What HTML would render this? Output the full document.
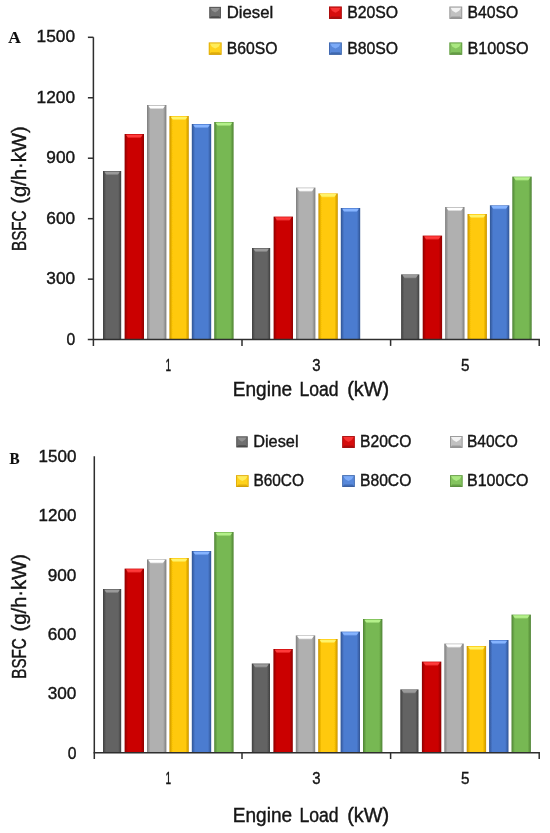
<!DOCTYPE html>
<html lang="en"><head><meta charset="utf-8"><title>BSFC vs Engine Load</title>
<style>
html,body{margin:0;padding:0;background:#fff;}
body{width:550px;height:833px;overflow:hidden;font-family:"Liberation Sans",sans-serif;}
svg{display:block;}
</style></head><body>
<svg width="550" height="833" viewBox="0 0 550 833">
<defs>
<filter id="soft" x="0" y="0" width="550" height="833" filterUnits="userSpaceOnUse"><feGaussianBlur stdDeviation="0.55"/></filter>
<linearGradient id="hd" x1="0" x2="1" y1="0" y2="0"><stop offset="0" stop-color="#3f3f3f"/><stop offset="0.17" stop-color="#636363"/><stop offset="0.83" stop-color="#636363"/><stop offset="1" stop-color="#3f3f3f"/></linearGradient>
<linearGradient id="td" x1="0" x2="0" y1="0" y2="1"><stop offset="0" stop-color="#9a9a9a"/><stop offset="0.55" stop-color="#9a9a9a"/><stop offset="1" stop-color="#636363"/></linearGradient>
<linearGradient id="hr" x1="0" x2="1" y1="0" y2="0"><stop offset="0" stop-color="#8c0303"/><stop offset="0.17" stop-color="#cb0606"/><stop offset="0.83" stop-color="#cb0606"/><stop offset="1" stop-color="#8c0303"/></linearGradient>
<linearGradient id="tr" x1="0" x2="0" y1="0" y2="1"><stop offset="0" stop-color="#ff3a3a"/><stop offset="0.55" stop-color="#ff3a3a"/><stop offset="1" stop-color="#cb0606"/></linearGradient>
<linearGradient id="hg" x1="0" x2="1" y1="0" y2="0"><stop offset="0" stop-color="#7c7c7c"/><stop offset="0.17" stop-color="#b0b0b0"/><stop offset="0.83" stop-color="#b0b0b0"/><stop offset="1" stop-color="#7c7c7c"/></linearGradient>
<linearGradient id="tg" x1="0" x2="0" y1="0" y2="1"><stop offset="0" stop-color="#ffffff"/><stop offset="0.55" stop-color="#ffffff"/><stop offset="1" stop-color="#b0b0b0"/></linearGradient>
<linearGradient id="hy" x1="0" x2="1" y1="0" y2="0"><stop offset="0" stop-color="#c99300"/><stop offset="0.17" stop-color="#ffc907"/><stop offset="0.83" stop-color="#ffc907"/><stop offset="1" stop-color="#c99300"/></linearGradient>
<linearGradient id="ty" x1="0" x2="0" y1="0" y2="1"><stop offset="0" stop-color="#fff36a"/><stop offset="0.55" stop-color="#fff36a"/><stop offset="1" stop-color="#ffc907"/></linearGradient>
<linearGradient id="hb" x1="0" x2="1" y1="0" y2="0"><stop offset="0" stop-color="#305493"/><stop offset="0.17" stop-color="#4b7bd0"/><stop offset="0.83" stop-color="#4b7bd0"/><stop offset="1" stop-color="#305493"/></linearGradient>
<linearGradient id="tb" x1="0" x2="0" y1="0" y2="1"><stop offset="0" stop-color="#86b4ff"/><stop offset="0.55" stop-color="#86b4ff"/><stop offset="1" stop-color="#4b7bd0"/></linearGradient>
<linearGradient id="hn" x1="0" x2="1" y1="0" y2="0"><stop offset="0" stop-color="#4e8234"/><stop offset="0.17" stop-color="#77b852"/><stop offset="0.83" stop-color="#77b852"/><stop offset="1" stop-color="#4e8234"/></linearGradient>
<linearGradient id="tn" x1="0" x2="0" y1="0" y2="1"><stop offset="0" stop-color="#b4f08a"/><stop offset="0.55" stop-color="#b4f08a"/><stop offset="1" stop-color="#77b852"/></linearGradient>
</defs>
<rect width="550" height="833" fill="#ffffff"/>
<g filter="url(#soft)">
<rect x="103.00" y="171.00" width="18.20" height="168.60" fill="url(#hd)"/>
<polygon points="104.40,171.70 119.80,171.70 117.40,175.40 106.80,175.40" fill="url(#td)"/>
<rect x="124.60" y="134.00" width="19.40" height="205.60" fill="url(#hr)"/>
<polygon points="126.00,134.70 142.60,134.70 140.20,138.40 128.40,138.40" fill="url(#tr)"/>
<rect x="147.00" y="105.00" width="19.40" height="234.60" fill="url(#hg)"/>
<polygon points="148.40,105.70 165.00,105.70 162.60,109.40 150.80,109.40" fill="url(#tg)"/>
<rect x="169.40" y="116.00" width="19.40" height="223.60" fill="url(#hy)"/>
<polygon points="170.80,116.70 187.40,116.70 185.00,120.40 173.20,120.40" fill="url(#ty)"/>
<rect x="191.80" y="124.00" width="19.40" height="215.60" fill="url(#hb)"/>
<polygon points="193.20,124.70 209.80,124.70 207.40,128.40 195.60,128.40" fill="url(#tb)"/>
<rect x="214.20" y="122.00" width="19.40" height="217.60" fill="url(#hn)"/>
<polygon points="215.60,122.70 232.20,122.70 229.80,126.40 218.00,126.40" fill="url(#tn)"/>
<rect x="252.00" y="248.00" width="18.20" height="91.60" fill="url(#hd)"/>
<polygon points="253.40,248.70 268.80,248.70 266.40,252.40 255.80,252.40" fill="url(#td)"/>
<rect x="273.60" y="216.60" width="19.40" height="123.00" fill="url(#hr)"/>
<polygon points="275.00,217.30 291.60,217.30 289.20,221.00 277.40,221.00" fill="url(#tr)"/>
<rect x="296.00" y="187.60" width="19.40" height="152.00" fill="url(#hg)"/>
<polygon points="297.40,188.30 314.00,188.30 311.60,192.00 299.80,192.00" fill="url(#tg)"/>
<rect x="318.40" y="193.40" width="19.40" height="146.20" fill="url(#hy)"/>
<polygon points="319.80,194.10 336.40,194.10 334.00,197.80 322.20,197.80" fill="url(#ty)"/>
<rect x="340.80" y="208.00" width="19.40" height="131.60" fill="url(#hb)"/>
<polygon points="342.20,208.70 358.80,208.70 356.40,212.40 344.60,212.40" fill="url(#tb)"/>
<rect x="401.10" y="274.40" width="18.20" height="65.20" fill="url(#hd)"/>
<polygon points="402.50,275.10 417.90,275.10 415.50,278.80 404.90,278.80" fill="url(#td)"/>
<rect x="422.70" y="235.60" width="19.40" height="104.00" fill="url(#hr)"/>
<polygon points="424.10,236.30 440.70,236.30 438.30,240.00 426.50,240.00" fill="url(#tr)"/>
<rect x="445.10" y="207.00" width="19.40" height="132.60" fill="url(#hg)"/>
<polygon points="446.50,207.70 463.10,207.70 460.70,211.40 448.90,211.40" fill="url(#tg)"/>
<rect x="467.50" y="214.00" width="19.40" height="125.60" fill="url(#hy)"/>
<polygon points="468.90,214.70 485.50,214.70 483.10,218.40 471.30,218.40" fill="url(#ty)"/>
<rect x="489.90" y="205.30" width="19.40" height="134.30" fill="url(#hb)"/>
<polygon points="491.30,206.00 507.90,206.00 505.50,209.70 493.70,209.70" fill="url(#tb)"/>
<rect x="512.30" y="176.60" width="19.40" height="163.00" fill="url(#hn)"/>
<polygon points="513.70,177.30 530.30,177.30 527.90,181.00 516.10,181.00" fill="url(#tn)"/>
<path d="M93.40 37.30 V345.90" stroke="#2e2e2e" stroke-width="1.5" fill="none"/>
<path d="M87.80 339.60 H539.95" stroke="#2e2e2e" stroke-width="1.5" fill="none"/>
<path d="M242.00 339.60 V345.90" stroke="#2e2e2e" stroke-width="1.5" fill="none"/>
<path d="M390.60 339.60 V345.90" stroke="#2e2e2e" stroke-width="1.5" fill="none"/>
<path d="M539.20 339.60 V345.90" stroke="#2e2e2e" stroke-width="1.5" fill="none"/>
<path d="M87.90 37.30 H93.40" stroke="#2e2e2e" stroke-width="1.5" fill="none"/>
<path d="M87.90 97.76 H93.40" stroke="#2e2e2e" stroke-width="1.5" fill="none"/>
<path d="M87.90 158.22 H93.40" stroke="#2e2e2e" stroke-width="1.5" fill="none"/>
<path d="M87.90 218.68 H93.40" stroke="#2e2e2e" stroke-width="1.5" fill="none"/>
<path d="M87.90 279.14 H93.40" stroke="#2e2e2e" stroke-width="1.5" fill="none"/>
<text transform="matrix(1.0487 0 0 1.0427 36.600 42.400)" font-family="&quot;Liberation Sans&quot;, sans-serif" font-size="16.5" font-weight="normal" fill="#141414" stroke="#141414" stroke-width="0.38">1500</text>
<text transform="matrix(1.0487 0 0 1.0427 36.600 102.900)" font-family="&quot;Liberation Sans&quot;, sans-serif" font-size="16.5" font-weight="normal" fill="#141414" stroke="#141414" stroke-width="0.38">1200</text>
<text transform="matrix(1.0467 0 0 1.0427 46.300 163.300)" font-family="&quot;Liberation Sans&quot;, sans-serif" font-size="16.5" font-weight="normal" fill="#141414" stroke="#141414" stroke-width="0.38">900</text>
<text transform="matrix(1.0467 0 0 1.0427 46.300 223.700)" font-family="&quot;Liberation Sans&quot;, sans-serif" font-size="16.5" font-weight="normal" fill="#141414" stroke="#141414" stroke-width="0.38">600</text>
<text transform="matrix(1.0467 0 0 1.0427 46.300 284.300)" font-family="&quot;Liberation Sans&quot;, sans-serif" font-size="16.5" font-weight="normal" fill="#141414" stroke="#141414" stroke-width="0.38">300</text>
<text transform="matrix(0.9500 0 0 1.0427 66.400 345.200)" font-family="&quot;Liberation Sans&quot;, sans-serif" font-size="16.5" font-weight="normal" fill="#141414" stroke="#141414" stroke-width="0.38">0</text>
<text transform="matrix(0.6115 0 0 1.0427 165.600 370.800)" font-family="&quot;Liberation Sans&quot;, sans-serif" font-size="16.5" font-weight="normal" fill="#141414" stroke="#141414" stroke-width="0.38">1</text>
<text transform="matrix(0.9064 0 0 1.0427 312.250 370.800)" font-family="&quot;Liberation Sans&quot;, sans-serif" font-size="16.5" font-weight="normal" fill="#141414" stroke="#141414" stroke-width="0.38">3</text>
<text transform="matrix(0.9282 0 0 1.0427 461.050 370.800)" font-family="&quot;Liberation Sans&quot;, sans-serif" font-size="16.5" font-weight="normal" fill="#141414" stroke="#141414" stroke-width="0.38">5</text>
<text transform="matrix(1.0900 0 0 1.0701 8.200 43.400)" font-family="&quot;Liberation Serif&quot;, serif" font-size="16" font-weight="bold" fill="#111" stroke="#111" stroke-width="0.15">A</text>
<text transform="matrix(1.0036 0 0 1.0411 232.800 395.800)" font-family="&quot;Liberation Sans&quot;, sans-serif" font-size="19" font-weight="normal" fill="#141414" stroke="#141414" stroke-width="0.38">Engine</text>
<text transform="matrix(0.9273 0 0 1.0411 299.400 395.800)" font-family="&quot;Liberation Sans&quot;, sans-serif" font-size="19" font-weight="normal" fill="#141414" stroke="#141414" stroke-width="0.38">Load</text>
<text transform="matrix(1.0476 0 0 1.0411 347.200 395.800)" font-family="&quot;Liberation Sans&quot;, sans-serif" font-size="19" font-weight="normal" fill="#141414" stroke="#141414" stroke-width="0.38">(kW)</text>
<text transform="matrix(0 -0.8011 1.0641 0 26.200 251.000)" font-family="&quot;Liberation Sans&quot;, sans-serif" font-size="19" fill="#141414" stroke="#141414" stroke-width="0.38">BSFC</text>
<text transform="matrix(0 -1.0657 1.0641 0 26.200 203.800)" font-family="&quot;Liberation Sans&quot;, sans-serif" font-size="19" fill="#141414" stroke="#141414" stroke-width="0.38">(g/h·kW)</text>
<rect x="209.30" y="6.90" width="11.60" height="11.40" fill="#6f6f6f"/>
<polygon points="209.30,18.30 220.90,18.30 218.70,15.90 211.50,15.90" fill="#3f3f3f" opacity="0.55"/>
<polygon points="210.30,7.70 219.90,7.70 217.90,10.78 215.10,12.60 212.30,10.78" fill="#9a9a9a" opacity="0.8"/>
<rect x="209.75" y="7.35" width="10.70" height="10.50" fill="none" stroke="#3f3f3f" stroke-width="0.9" opacity="0.6"/>
<text transform="matrix(1.0454 0 0 1.0455 226.700 18.100)" font-family="&quot;Liberation Sans&quot;, sans-serif" font-size="16" font-weight="normal" fill="#141414" stroke="#141414" stroke-width="0.38">Diesel</text>
<rect x="329.00" y="6.60" width="12.80" height="12.20" fill="#d61111"/>
<polygon points="329.00,18.80 341.80,18.80 339.60,16.40 331.20,16.40" fill="#8c0303" opacity="0.55"/>
<polygon points="330.00,7.40 340.80,7.40 338.80,10.75 335.40,12.70 332.00,10.75" fill="#ff3a3a" opacity="0.8"/>
<rect x="329.45" y="7.05" width="11.90" height="11.30" fill="none" stroke="#8c0303" stroke-width="0.9" opacity="0.6"/>
<text transform="matrix(0.9884 0 0 1.0455 347.200 18.100)" font-family="&quot;Liberation Sans&quot;, sans-serif" font-size="16" font-weight="normal" fill="#141414" stroke="#141414" stroke-width="0.38">B20SO</text>
<rect x="449.40" y="6.60" width="12.80" height="12.20" fill="#c1c1c1"/>
<polygon points="449.40,18.80 462.20,18.80 460.00,16.40 451.60,16.40" fill="#7c7c7c" opacity="0.55"/>
<polygon points="450.40,7.40 461.20,7.40 459.20,10.75 455.80,12.70 452.40,10.75" fill="#ffffff" opacity="0.8"/>
<rect x="449.85" y="7.05" width="11.90" height="11.30" fill="none" stroke="#7c7c7c" stroke-width="0.9" opacity="0.6"/>
<text transform="matrix(0.9845 0 0 1.0455 467.400 18.100)" font-family="&quot;Liberation Sans&quot;, sans-serif" font-size="16" font-weight="normal" fill="#141414" stroke="#141414" stroke-width="0.38">B40SO</text>
<rect x="208.80" y="42.50" width="12.80" height="12.20" fill="#ffd21d"/>
<polygon points="208.80,54.70 221.60,54.70 219.40,52.30 211.00,52.30" fill="#c99300" opacity="0.55"/>
<polygon points="209.80,43.30 220.60,43.30 218.60,46.65 215.20,48.60 211.80,46.65" fill="#fff36a" opacity="0.8"/>
<rect x="209.25" y="42.95" width="11.90" height="11.30" fill="none" stroke="#c99300" stroke-width="0.9" opacity="0.6"/>
<text transform="matrix(0.9845 0 0 1.0545 226.800 54.100)" font-family="&quot;Liberation Sans&quot;, sans-serif" font-size="16" font-weight="normal" fill="#141414" stroke="#141414" stroke-width="0.38">B60SO</text>
<rect x="329.00" y="42.50" width="12.80" height="12.20" fill="#5888da"/>
<polygon points="329.00,54.70 341.80,54.70 339.60,52.30 331.20,52.30" fill="#305493" opacity="0.55"/>
<polygon points="330.00,43.30 340.80,43.30 338.80,46.65 335.40,48.60 332.00,46.65" fill="#86b4ff" opacity="0.8"/>
<rect x="329.45" y="42.95" width="11.90" height="11.30" fill="none" stroke="#305493" stroke-width="0.9" opacity="0.6"/>
<text transform="matrix(0.9884 0 0 1.0545 347.200 54.100)" font-family="&quot;Liberation Sans&quot;, sans-serif" font-size="16" font-weight="normal" fill="#141414" stroke="#141414" stroke-width="0.38">B80SO</text>
<rect x="449.40" y="42.50" width="12.80" height="12.20" fill="#84c45e"/>
<polygon points="449.40,54.70 462.20,54.70 460.00,52.30 451.60,52.30" fill="#4e8234" opacity="0.55"/>
<polygon points="450.40,43.30 461.20,43.30 459.20,46.65 455.80,48.60 452.40,46.65" fill="#b4f08a" opacity="0.8"/>
<rect x="449.85" y="42.95" width="11.90" height="11.30" fill="none" stroke="#4e8234" stroke-width="0.9" opacity="0.6"/>
<text transform="matrix(1.0119 0 0 1.0545 467.400 54.100)" font-family="&quot;Liberation Sans&quot;, sans-serif" font-size="16" font-weight="normal" fill="#141414" stroke="#141414" stroke-width="0.38">B100SO</text>
<rect x="103.00" y="589.00" width="18.20" height="163.70" fill="url(#hd)"/>
<polygon points="104.40,589.70 119.80,589.70 117.40,593.40 106.80,593.40" fill="url(#td)"/>
<rect x="124.60" y="568.60" width="19.40" height="184.10" fill="url(#hr)"/>
<polygon points="126.00,569.30 142.60,569.30 140.20,573.00 128.40,573.00" fill="url(#tr)"/>
<rect x="147.00" y="559.40" width="19.40" height="193.30" fill="url(#hg)"/>
<polygon points="148.40,560.10 165.00,560.10 162.60,563.80 150.80,563.80" fill="url(#tg)"/>
<rect x="169.40" y="558.00" width="19.40" height="194.70" fill="url(#hy)"/>
<polygon points="170.80,558.70 187.40,558.70 185.00,562.40 173.20,562.40" fill="url(#ty)"/>
<rect x="191.80" y="551.00" width="19.40" height="201.70" fill="url(#hb)"/>
<polygon points="193.20,551.70 209.80,551.70 207.40,555.40 195.60,555.40" fill="url(#tb)"/>
<rect x="214.20" y="532.00" width="19.40" height="220.70" fill="url(#hn)"/>
<polygon points="215.60,532.70 232.20,532.70 229.80,536.40 218.00,536.40" fill="url(#tn)"/>
<rect x="251.80" y="663.50" width="18.20" height="89.20" fill="url(#hd)"/>
<polygon points="253.20,664.20 268.60,664.20 266.20,667.90 255.60,667.90" fill="url(#td)"/>
<rect x="273.40" y="649.00" width="19.40" height="103.70" fill="url(#hr)"/>
<polygon points="274.80,649.70 291.40,649.70 289.00,653.40 277.20,653.40" fill="url(#tr)"/>
<rect x="295.80" y="635.40" width="19.40" height="117.30" fill="url(#hg)"/>
<polygon points="297.20,636.10 313.80,636.10 311.40,639.80 299.60,639.80" fill="url(#tg)"/>
<rect x="318.20" y="639.00" width="19.40" height="113.70" fill="url(#hy)"/>
<polygon points="319.60,639.70 336.20,639.70 333.80,643.40 322.00,643.40" fill="url(#ty)"/>
<rect x="340.60" y="631.60" width="19.40" height="121.10" fill="url(#hb)"/>
<polygon points="342.00,632.30 358.60,632.30 356.20,636.00 344.40,636.00" fill="url(#tb)"/>
<rect x="363.00" y="619.00" width="19.40" height="133.70" fill="url(#hn)"/>
<polygon points="364.40,619.70 381.00,619.70 378.60,623.40 366.80,623.40" fill="url(#tn)"/>
<rect x="400.30" y="689.40" width="18.20" height="63.30" fill="url(#hd)"/>
<polygon points="401.70,690.10 417.10,690.10 414.70,693.80 404.10,693.80" fill="url(#td)"/>
<rect x="421.90" y="661.60" width="19.40" height="91.10" fill="url(#hr)"/>
<polygon points="423.30,662.30 439.90,662.30 437.50,666.00 425.70,666.00" fill="url(#tr)"/>
<rect x="444.30" y="643.60" width="19.40" height="109.10" fill="url(#hg)"/>
<polygon points="445.70,644.30 462.30,644.30 459.90,648.00 448.10,648.00" fill="url(#tg)"/>
<rect x="466.70" y="646.00" width="19.40" height="106.70" fill="url(#hy)"/>
<polygon points="468.10,646.70 484.70,646.70 482.30,650.40 470.50,650.40" fill="url(#ty)"/>
<rect x="489.10" y="640.00" width="19.40" height="112.70" fill="url(#hb)"/>
<polygon points="490.50,640.70 507.10,640.70 504.70,644.40 492.90,644.40" fill="url(#tb)"/>
<rect x="511.50" y="614.60" width="19.40" height="138.10" fill="url(#hn)"/>
<polygon points="512.90,615.30 529.50,615.30 527.10,619.00 515.30,619.00" fill="url(#tn)"/>
<path d="M94.30 456.30 V759.00" stroke="#2e2e2e" stroke-width="1.5" fill="none"/>
<path d="M93.55 752.70 H539.95" stroke="#2e2e2e" stroke-width="1.5" fill="none"/>
<path d="M242.00 752.70 V759.00" stroke="#2e2e2e" stroke-width="1.5" fill="none"/>
<path d="M390.60 752.70 V759.00" stroke="#2e2e2e" stroke-width="1.5" fill="none"/>
<path d="M539.20 752.70 V759.00" stroke="#2e2e2e" stroke-width="1.5" fill="none"/>
<text transform="matrix(1.0296 0 0 1.0427 38.600 462.200)" font-family="&quot;Liberation Sans&quot;, sans-serif" font-size="16.5" font-weight="normal" fill="#141414" stroke="#141414" stroke-width="0.38">1500</text>
<text transform="matrix(1.0296 0 0 1.0427 38.600 521.400)" font-family="&quot;Liberation Sans&quot;, sans-serif" font-size="16.5" font-weight="normal" fill="#141414" stroke="#141414" stroke-width="0.38">1200</text>
<text transform="matrix(1.0431 0 0 1.0427 47.700 580.500)" font-family="&quot;Liberation Sans&quot;, sans-serif" font-size="16.5" font-weight="normal" fill="#141414" stroke="#141414" stroke-width="0.38">900</text>
<text transform="matrix(1.0431 0 0 1.0427 47.700 639.700)" font-family="&quot;Liberation Sans&quot;, sans-serif" font-size="16.5" font-weight="normal" fill="#141414" stroke="#141414" stroke-width="0.38">600</text>
<text transform="matrix(1.0431 0 0 1.0427 47.700 698.800)" font-family="&quot;Liberation Sans&quot;, sans-serif" font-size="16.5" font-weight="normal" fill="#141414" stroke="#141414" stroke-width="0.38">300</text>
<text transform="matrix(0.9500 0 0 1.0427 67.700 758.500)" font-family="&quot;Liberation Sans&quot;, sans-serif" font-size="16.5" font-weight="normal" fill="#141414" stroke="#141414" stroke-width="0.38">0</text>
<text transform="matrix(0.6115 0 0 1.0427 165.600 784.400)" font-family="&quot;Liberation Sans&quot;, sans-serif" font-size="16.5" font-weight="normal" fill="#141414" stroke="#141414" stroke-width="0.38">1</text>
<text transform="matrix(0.9064 0 0 1.0427 312.250 784.400)" font-family="&quot;Liberation Sans&quot;, sans-serif" font-size="16.5" font-weight="normal" fill="#141414" stroke="#141414" stroke-width="0.38">3</text>
<text transform="matrix(0.9282 0 0 1.0427 461.050 784.400)" font-family="&quot;Liberation Sans&quot;, sans-serif" font-size="16.5" font-weight="normal" fill="#141414" stroke="#141414" stroke-width="0.38">5</text>
<text transform="matrix(0.9457 0 0 1.0687 9.500 463.800)" font-family="&quot;Liberation Serif&quot;, serif" font-size="16" font-weight="bold" fill="#111" stroke="#111" stroke-width="0.15">B</text>
<text transform="matrix(1.0036 0 0 1.0411 232.800 821.900)" font-family="&quot;Liberation Sans&quot;, sans-serif" font-size="19" font-weight="normal" fill="#141414" stroke="#141414" stroke-width="0.38">Engine</text>
<text transform="matrix(0.9273 0 0 1.0411 299.400 821.900)" font-family="&quot;Liberation Sans&quot;, sans-serif" font-size="19" font-weight="normal" fill="#141414" stroke="#141414" stroke-width="0.38">Load</text>
<text transform="matrix(1.0476 0 0 1.0411 347.200 821.900)" font-family="&quot;Liberation Sans&quot;, sans-serif" font-size="19" font-weight="normal" fill="#141414" stroke="#141414" stroke-width="0.38">(kW)</text>
<text transform="matrix(0 -0.8011 1.0641 0 26.200 678.700)" font-family="&quot;Liberation Sans&quot;, sans-serif" font-size="19" fill="#141414" stroke="#141414" stroke-width="0.38">BSFC</text>
<text transform="matrix(0 -1.0657 1.0641 0 26.200 631.500)" font-family="&quot;Liberation Sans&quot;, sans-serif" font-size="19" fill="#141414" stroke="#141414" stroke-width="0.38">(g/h·kW)</text>
<rect x="236.30" y="436.40" width="11.40" height="10.90" fill="#6f6f6f"/>
<polygon points="236.30,447.30 247.70,447.30 245.50,444.90 238.50,444.90" fill="#3f3f3f" opacity="0.55"/>
<polygon points="237.30,437.20 246.70,437.20 244.70,440.11 242.00,441.85 239.30,440.11" fill="#9a9a9a" opacity="0.8"/>
<rect x="236.75" y="436.85" width="10.50" height="10.00" fill="none" stroke="#3f3f3f" stroke-width="0.9" opacity="0.6"/>
<text transform="matrix(1.0207 0 0 1.0455 253.200 446.800)" font-family="&quot;Liberation Sans&quot;, sans-serif" font-size="16" font-weight="normal" fill="#141414" stroke="#141414" stroke-width="0.38">Diesel</text>
<rect x="342.20" y="436.10" width="12.60" height="11.70" fill="#d61111"/>
<polygon points="342.20,447.80 354.80,447.80 352.60,445.40 344.40,445.40" fill="#8c0303" opacity="0.55"/>
<polygon points="343.20,436.90 353.80,436.90 351.80,440.08 348.50,441.95 345.20,440.08" fill="#ff3a3a" opacity="0.8"/>
<rect x="342.65" y="436.55" width="11.70" height="10.80" fill="none" stroke="#8c0303" stroke-width="0.9" opacity="0.6"/>
<text transform="matrix(0.9794 0 0 1.0455 360.000 446.800)" font-family="&quot;Liberation Sans&quot;, sans-serif" font-size="16" font-weight="normal" fill="#141414" stroke="#141414" stroke-width="0.38">B20CO</text>
<rect x="450.00" y="436.10" width="12.60" height="11.70" fill="#c1c1c1"/>
<polygon points="450.00,447.80 462.60,447.80 460.40,445.40 452.20,445.40" fill="#7c7c7c" opacity="0.55"/>
<polygon points="451.00,436.90 461.60,436.90 459.60,440.08 456.30,441.95 453.00,440.08" fill="#ffffff" opacity="0.8"/>
<rect x="450.45" y="436.55" width="11.70" height="10.80" fill="none" stroke="#7c7c7c" stroke-width="0.9" opacity="0.6"/>
<text transform="matrix(0.9718 0 0 1.0455 467.000 446.800)" font-family="&quot;Liberation Sans&quot;, sans-serif" font-size="16" font-weight="normal" fill="#141414" stroke="#141414" stroke-width="0.38">B40CO</text>
<rect x="236.00" y="475.20" width="12.60" height="11.70" fill="#ffd21d"/>
<polygon points="236.00,486.90 248.60,486.90 246.40,484.50 238.20,484.50" fill="#c99300" opacity="0.55"/>
<polygon points="237.00,476.00 247.60,476.00 245.60,479.18 242.30,481.05 239.00,479.18" fill="#fff36a" opacity="0.8"/>
<rect x="236.45" y="475.65" width="11.70" height="10.80" fill="none" stroke="#c99300" stroke-width="0.9" opacity="0.6"/>
<text transform="matrix(0.9642 0 0 1.0273 253.400 486.000)" font-family="&quot;Liberation Sans&quot;, sans-serif" font-size="16" font-weight="normal" fill="#141414" stroke="#141414" stroke-width="0.38">B60CO</text>
<rect x="342.20" y="475.20" width="12.60" height="11.70" fill="#5888da"/>
<polygon points="342.20,486.90 354.80,486.90 352.60,484.50 344.40,484.50" fill="#305493" opacity="0.55"/>
<polygon points="343.20,476.00 353.80,476.00 351.80,479.18 348.50,481.05 345.20,479.18" fill="#86b4ff" opacity="0.8"/>
<rect x="342.65" y="475.65" width="11.70" height="10.80" fill="none" stroke="#305493" stroke-width="0.9" opacity="0.6"/>
<text transform="matrix(0.9794 0 0 1.0273 360.000 486.000)" font-family="&quot;Liberation Sans&quot;, sans-serif" font-size="16" font-weight="normal" fill="#141414" stroke="#141414" stroke-width="0.38">B80CO</text>
<rect x="450.00" y="475.20" width="12.60" height="11.70" fill="#84c45e"/>
<polygon points="450.00,486.90 462.60,486.90 460.40,484.50 452.20,484.50" fill="#4e8234" opacity="0.55"/>
<polygon points="451.00,476.00 461.60,476.00 459.60,479.18 456.30,481.05 453.00,479.18" fill="#b4f08a" opacity="0.8"/>
<rect x="450.45" y="475.65" width="11.70" height="10.80" fill="none" stroke="#4e8234" stroke-width="0.9" opacity="0.6"/>
<text transform="matrix(1.0007 0 0 1.0273 467.000 486.000)" font-family="&quot;Liberation Sans&quot;, sans-serif" font-size="16" font-weight="normal" fill="#141414" stroke="#141414" stroke-width="0.38">B100CO</text>
</g>
</svg>
</body></html>
